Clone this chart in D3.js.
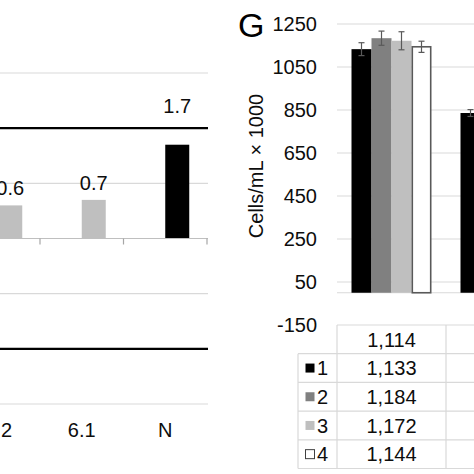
<!DOCTYPE html>
<html>
<head>
<meta charset="utf-8">
<script src="https://cdn.jsdelivr.net/npm/d3@7"></script>
<style>
  html, body { margin: 0; padding: 0; background: #fff; }
  svg { display: block; font-family: "Liberation Sans", Arial, sans-serif; }
</style>
</head>
<body>
<div id="chart"></div>
<script>
'use strict';

// left panel (only its right part is visible)
var leftCategories = ['5.2', '6.1', 'N'];
var leftValues = [0.6, 0.7, 1.7];
var leftTicks = [-3, -2, -1, 0, 1, 2, 3];
var leftThresholds = [2, -2];

// panel G
var gCategories = ['1,114', ''];
var gSeries = ['1', '2', '3', '4'];
var gValues = [
  [1133, 1184, 1172, 1144],
  [836, null, null, null]
];
var gErrors = [
  [30, 33, 42, 26],
  [16, null, null, null]
];
var gTicks = [-150, 50, 250, 450, 650, 850, 1050, 1250];

var W = 474, H = 474
  , gridColor = '#d9d9d9'
  , seriesFill = ['#000000', '#808080', '#bfbfbf', '#ffffff']
  , textColor = '#0d0d0d'
  , fontSize = 20;

var svg = d3.select('#chart').append('svg')
    .attr('width', W)
    .attr('height', H);

// ---- left panel ----
var lx = d3.scaleBand()
    .domain(leftCategories)
    .range([-43.5, 207]);

// two-slot cluster, the value bar is the second slot
var lsub = d3.scaleBand()
    .domain(['ref', 'value'])
    .range([0, lx.bandwidth()])
    .paddingOuter(0.74);

var ly = d3.scaleLinear()
    .domain([-3, 3])
    .range([404, 73]);

var left = svg.append('g').attr('class', 'left-panel');

left.selectAll('line.grid')
    .data(leftTicks.filter(function (d) { return d !== 0 && leftThresholds.indexOf(d) < 0; }))
  .enter().append('line')
    .attr('class', 'grid')
    .attr('x1', -10).attr('x2', 208)
    .attr('y1', function (d) { return ly(d); })
    .attr('y2', function (d) { return ly(d); })
    .style('stroke', gridColor)
    .style('stroke-width', 1.2);

left.selectAll('line.threshold')
    .data(leftThresholds)
  .enter().append('line')
    .attr('class', 'threshold')
    .attr('x1', -10).attr('x2', 208)
    .attr('y1', function (d) { return ly(d); })
    .attr('y2', function (d) { return ly(d); })
    .style('stroke', '#000')
    .style('stroke-width', 2.2);

left.selectAll('rect.bar')
    .data(leftValues)
  .enter().append('rect')
    .attr('class', 'bar')
    .attr('x', function (d, i) { return lx(leftCategories[i]) + lsub('value'); })
    .attr('width', lsub.bandwidth())
    .attr('y', function (d) { return ly(d); })
    .attr('height', function (d) { return ly(0) - ly(d); })
    .style('fill', function (d, i) { return leftCategories[i] === 'N' ? '#000' : '#bfbfbf'; });

// labels sit just above the bar, or above the threshold line if they would touch it
left.selectAll('text.value')
    .data(leftValues)
  .enter().append('text')
    .attr('class', 'value')
    .attr('x', function (d, i) { return lx(leftCategories[i]) + lsub('value') + lsub.bandwidth() / 2; })
    .attr('y', function (d) {
      var t = leftThresholds[0];
      return (ly(d) - 28 < ly(t)) ? ly(t) - 15 : ly(d) - 10;
    })
    .style('text-anchor', 'middle')
    .style('font-size', fontSize + 'px')
    .style('fill', textColor)
    .text(function (d) { return d3.format('.1f')(d); });

// category axis at zero
var lAxis = left.append('g').attr('transform', 'translate(0,' + ly(0) + ')');
lAxis.append('line')
    .attr('x1', -10).attr('x2', 208)
    .style('stroke', '#bfbfbf')
    .style('stroke-width', 1.2);
lAxis.selectAll('line.tick')
    .data(leftCategories)
  .enter().append('line')
    .attr('class', 'tick')
    .attr('x1', function (d) { return lx(d) + lx.bandwidth(); })
    .attr('x2', function (d) { return lx(d) + lx.bandwidth(); })
    .attr('y1', 0).attr('y2', 6)
    .style('stroke', '#a6a6a6')
    .style('stroke-width', 1.2);

left.selectAll('text.cat')
    .data(leftCategories)
  .enter().append('text')
    .attr('class', 'cat')
    .attr('x', function (d) { return lx(d) + lx.bandwidth() / 2; })
    .attr('y', 437)
    .style('text-anchor', 'middle')
    .style('font-size', fontSize + 'px')
    .style('fill', textColor)
    .text(function (d) { return d; });

// ---- panel G ----
var gx = d3.scaleBand()
    .domain(gCategories)
    .range([337, 555]);

var gsub = d3.scaleBand()
    .domain(gSeries)
    .range([0, gx.bandwidth()])
    .paddingOuter(0.725);

var gy = d3.scaleLinear()
    .domain([-150, 1250])
    .range([325, 24]);

var g = svg.append('g').attr('class', 'panel-g');

g.append('text')
    .attr('x', 238)
    .attr('y', 37)
    .style('font-size', '34px')
    .style('fill', '#000')
    .text('G');

g.selectAll('line.grid')
    .data(gTicks.filter(function (d) { return d > 0; }))
  .enter().append('line')
    .attr('class', 'grid')
    .attr('x1', 337).attr('x2', W)
    .attr('y1', function (d) { return gy(d); })
    .attr('y2', function (d) { return gy(d); })
    .style('stroke', gridColor)
    .style('stroke-width', 1.2);

g.append('line')
    .attr('x1', 337).attr('x2', W)
    .attr('y1', gy(0)).attr('y2', gy(0))
    .style('stroke', gridColor)
    .style('stroke-width', 1.2);

g.selectAll('text.ytick')
    .data(gTicks)
  .enter().append('text')
    .attr('class', 'ytick')
    .attr('x', 317)
    .attr('y', function (d) { return gy(d); })
    .attr('dy', '0.36em')
    .style('text-anchor', 'end')
    .style('font-size', fontSize + 'px')
    .style('fill', textColor)
    .text(function (d) { return d; });

g.append('text')
    .attr('transform', 'translate(263,166) rotate(-90)')
    .style('text-anchor', 'middle')
    .style('font-size', fontSize + 'px')
    .style('fill', textColor)
    .text('Cells/mL \u00d7 1000');

var groups = g.selectAll('g.group')
    .data(gValues)
  .enter().append('g')
    .attr('class', 'group')
    .attr('transform', function (d, i) { return 'translate(' + gx(gCategories[i]) + ',0)'; });

groups.each(function (row, gi) {
  var sel = d3.select(this);
  row.forEach(function (v, si) {
    if (v === null) return;
    var bx = gsub(gSeries[si]), bw = gsub.bandwidth()
      , isWhite = seriesFill[si] === '#ffffff';
    sel.append('rect')
        .attr('x', bx + (isWhite ? 0.8 : 0))
        .attr('width', bw - (isWhite ? 1.6 : 0))
        .attr('y', gy(v))
        .attr('height', gy(0) - gy(v))
        .style('fill', seriesFill[si])
        .style('stroke', isWhite ? '#595959' : 'none')
        .style('stroke-width', 1.6);
    var e = gErrors[gi][si], cx = bx + bw / 2;
    var eb = sel.append('g').style('stroke', '#595959').style('stroke-width', 1.2);
    eb.append('line').attr('x1', cx).attr('x2', cx).attr('y1', gy(v + e)).attr('y2', gy(v - e));
    eb.append('line').attr('x1', cx - 3).attr('x2', cx + 3).attr('y1', gy(v + e)).attr('y2', gy(v + e));
    eb.append('line').attr('x1', cx - 3).attr('x2', cx + 3).attr('y1', gy(v - e)).attr('y2', gy(v - e));
  });
});

// ---- data table under panel G ----
var tableTop = gy(-150)
  , rowH = 28.7
  , legendLeft = 298
  , tableBottom = tableTop + rowH * (gSeries.length + 1);

var table = g.append('g').attr('class', 'data-table')
    .style('stroke', gridColor)
    .style('stroke-width', 1.2);

table.append('line')
    .attr('x1', gx.range()[0]).attr('x2', W)
    .attr('y1', tableTop).attr('y2', tableTop);
table.selectAll('line.hrow')
    .data(d3.range(1, gSeries.length + 2))
  .enter().append('line')
    .attr('class', 'hrow')
    .attr('x1', legendLeft).attr('x2', W)
    .attr('y1', function (d) { return tableTop + d * rowH; })
    .attr('y2', function (d) { return tableTop + d * rowH; });
table.append('line')
    .attr('x1', legendLeft).attr('x2', legendLeft)
    .attr('y1', tableTop + rowH).attr('y2', tableBottom);
table.selectAll('line.vcol')
    .data(gCategories)
  .enter().append('line')
    .attr('class', 'vcol')
    .attr('x1', function (d) { return gx(d); })
    .attr('x2', function (d) { return gx(d); })
    .attr('y1', tableTop).attr('y2', tableBottom);

var fmt = d3.format(',');

g.selectAll('text.tcat')
    .data(gCategories)
  .enter().append('text')
    .attr('class', 'tcat')
    .attr('x', function (d) { return gx(d) + gx.bandwidth() / 2; })
    .attr('y', tableTop + rowH / 2)
    .attr('dy', '0.36em')
    .style('text-anchor', 'middle')
    .style('font-size', fontSize + 'px')
    .style('fill', textColor)
    .text(function (d) { return d; });

gSeries.forEach(function (s, si) {
  var cy = tableTop + rowH * (si + 1.5);
  g.append('rect')
      .attr('x', 305.5).attr('y', cy - 4.5)
      .attr('width', 9).attr('height', 9)
      .style('fill', seriesFill[si])
      .style('stroke', si === 3 ? '#404040' : 'none')
      .style('stroke-width', 1);
  g.append('text')
      .attr('x', 317).attr('y', cy)
      .attr('dy', '0.36em')
      .style('font-size', fontSize + 'px')
      .style('fill', textColor)
      .text(s);
  gValues.forEach(function (row, gi) {
    if (row[si] === null) return;
    g.append('text')
        .attr('x', gx(gCategories[gi]) + gx.bandwidth() / 2)
        .attr('y', cy)
        .attr('dy', '0.36em')
        .style('text-anchor', 'middle')
        .style('font-size', fontSize + 'px')
        .style('fill', textColor)
        .text(fmt(row[si]));
  });
});
</script>
</body>
</html>
